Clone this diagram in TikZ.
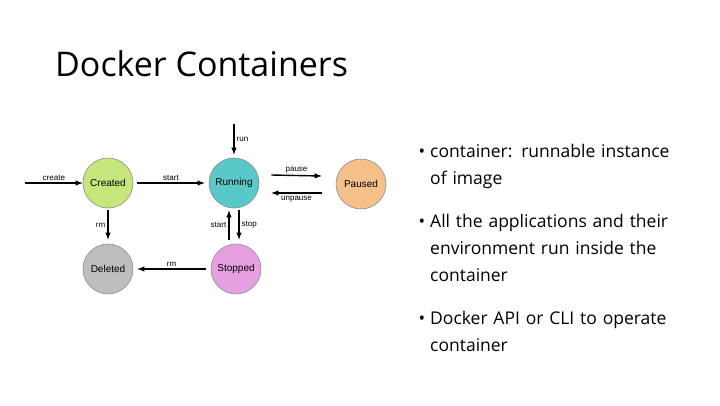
\documentclass[tikz,border=0pt]{standalone}
\usepackage{fontspec}
\setmainfont{Open Sans}
\newfontfamily\arialf{Liberation Sans}
\begin{document}
\begin{tikzpicture}[x=1pt,y=-1pt,>=latex,
  st/.style={circle,draw=black!45,line width=0.6pt,minimum size=50pt,inner sep=0pt,font=\arialf\fontsize{10}{12}\selectfont},
  ar/.style={->,line width=1.4pt},
  lb/.style={font=\arialf\fontsize{8}{9}\selectfont,inner sep=2pt}]
\useasboundingbox (0,0) rectangle (720,405);
\node[anchor=base west,inner sep=0pt,font=\fontsize{34}{38}\selectfont] (title) at (55,76) {Docker Containers};
\node[st,fill={rgb,255:red,196;green,230;blue,122}] (cr) at (108,183) {Created};
\node[st,fill={rgb,255:red,88;green,200;blue,200}] (ru) at (234,183) {Running};
\node[st,fill={rgb,255:red,245;green,192;blue,140}] (pa) at (361,184) {Paused};
\node[st,fill={rgb,255:red,190;green,190;blue,190}] (de) at (108,269) {Deleted};
\node[st,fill={rgb,255:red,230;green,160;blue,225}] (sp) at (236,269) {Stopped};
\coordinate (c0) at (25,183);
\coordinate (r0) at (234,124);
\draw[ar] (c0) -- node[lb,above]{create} (cr.west);
\draw[ar] ([xshift=4pt]cr.east) -- node[lb,above]{start} ([xshift=-4pt]ru.west);
\draw[ar] (r0) -- node[lb,right]{run} ([yshift=3pt]ru.north);
\draw[ar] ([xshift=12pt,yshift=8pt]ru.east) -- node[lb,above]{pause} ([xshift=-14pt,yshift=8pt]pa.west);
\draw[ar] ([xshift=-14pt,yshift=-9pt]pa.west) -- node[lb,below]{unpause} ([xshift=12pt,yshift=-10pt]ru.east);
\draw[ar] ([yshift=-2pt]cr.south) -- node[lb,left]{rm} ([yshift=4pt]de.north);
\draw[ar] ([xshift=-5pt]sp.west) -- node[lb,above]{rm} ([xshift=4pt]de.east);
\draw[ar] ([xshift=-7pt,yshift=4pt]sp.north) -- node[lb,left]{start} ([xshift=-5pt,yshift=-2pt]ru.south);
\draw[ar] ([xshift=5pt,yshift=-2pt]ru.south) -- node[lb,right]{stop} ([xshift=3pt,yshift=4pt]sp.north);
\node[anchor=north west,text width=275pt,align=left,font=\fontsize{17.5}{27}\selectfont,inner sep=0pt] (bl) at (405,122) {%
\begin{itemize}\setlength{\itemsep}{12pt}\setlength{\parsep}{0pt}\setlength{\leftmargin}{14pt}
\item container: runnable instance of image
\item All the applications and their environment run inside the container
\item Docker API or CLI to operate container
\end{itemize}};
\end{tikzpicture}
\end{document}
